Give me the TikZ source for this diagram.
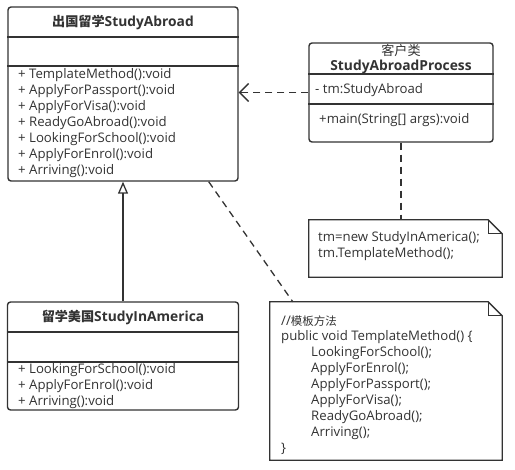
\documentclass[tikz,border=0pt]{standalone}
\usepackage{fontspec}
\setmainfont{Open Sans}
\newfontfamily\cjk[Scale=0.87]{Noto Sans CJK SC}
\newfontfamily\cjkt[Scale=0.95]{Noto Sans CJK SC}
\usetikzlibrary{arrows.meta,calc}
\definecolor{ink}{HTML}{333333}
\begin{document}
\begin{tikzpicture}[x=1pt,y=-1pt,
  font=\fontsize{13.2}{15}\selectfont,
  classbox/.style={draw=ink,line width=1.4pt,rounded corners=3pt,fill=white,inner sep=0pt},
  sep/.style={draw=ink,line width=1.1pt},
  txt/.style={anchor=west,inner sep=0pt,text=ink},
  ttl/.style={inner sep=0pt,text=ink,font=\fontsize{13.8}{15}\selectfont\bfseries},
  link/.style={draw=ink,line width=1.3pt,dash pattern=on 7pt off 5pt},
  notepath/.style={draw=ink,line width=1.3pt,fill=white,line join=miter}]
\useasboundingbox (0,0) rectangle (515,470);
\fill[white] (0,0) rectangle (515,470);
% StudyAbroad
\node[classbox,minimum width=230,minimum height=174] (sa) at (123,94) {};
\draw[sep] (sa.west|-0,37) -- (sa.east|-0,37);
\draw[sep] (sa.west|-0,66) -- (sa.east|-0,66);
\node[ttl] (sat) at (123,22) {{\cjkt 出国留学}StudyAbroad};
\node[txt] (m1) at (18,75) {+ TemplateMethod():void};
\node[txt] (m2) at (18,91) {+ ApplyForPassport():void};
\node[txt] (m3) at (18,107) {+ ApplyForVisa():void};
\node[txt] (m4) at (18,123) {+ ReadyGoAbroad():void};
\node[txt] (m5) at (18,139) {+ LookingForSchool():void};
\node[txt] (m6) at (18,155) {+ ApplyForEnrol():void};
\node[txt] (m7) at (18,171) {+ Arriving():void};
% Client
\node[classbox,minimum width=184,minimum height=99] (cp) at (401,92.5) {};
\draw[sep] (cp.west|-0,74) -- (cp.east|-0,74);
\draw[sep] (cp.west|-0,104) -- (cp.east|-0,104);
\node[inner sep=0pt,text=ink,font=\fontsize{13.8}{15}\selectfont] (cpt1) at (401,51) {\cjkt 客户类};
\node[ttl] (cpt2) at (401,67) {StudyAbroadProcess};
\node[txt] (cpa) at (315,90) {- tm:StudyAbroad};
\node[txt] (cpm) at (319,120) {+main(String[] args):void};
% StudyInAmerica
\node[classbox,minimum width=231,minimum height=108] (sai) at (123,356) {};
\draw[sep] (sai.west|-0,332) -- (sai.east|-0,332);
\draw[sep] (sai.west|-0,362) -- (sai.east|-0,362);
\node[ttl] (sait) at (123,317) {{\cjkt 留学美国}StudyInAmerica};
\node[txt] (s1) at (18,370) {+ LookingForSchool():void};
\node[txt] (s2) at (18,386) {+ ApplyForEnrol():void};
\node[txt] (s3) at (18,402) {+ Arriving():void};
% Note 1
\node[minimum width=193,minimum height=57,inner sep=0pt] (n1) at (405.5,248.5) {};
\draw[notepath] (n1.north west) -- ($(n1.north east)+(-14,0)$) -- ($(n1.north east)+(0,14)$) -- (n1.south east) -- (n1.south west) -- cycle;
\draw[notepath,fill=none] ($(n1.north east)+(-14,0)$) -- ($(n1.north east)+(-14,14)$) -- ($(n1.north east)+(0,14)$);
\node[txt] (n1a) at (318,238) {tm=new StudyInAmerica();};
\node[txt] (n1b) at (318,254) {tm.TemplateMethod();};
% Note 2
\node[minimum width=232,minimum height=158,inner sep=0pt] (n2) at (386,381) {};
\draw[notepath] (n2.north west) -- ($(n2.north east)+(-14,0)$) -- ($(n2.north east)+(0,14)$) -- (n2.south east) -- (n2.south west) -- cycle;
\draw[notepath,fill=none] ($(n2.north east)+(-14,0)$) -- ($(n2.north east)+(-14,14)$) -- ($(n2.north east)+(0,14)$);
\node[txt] (c1) at (281,321) {//{\cjk 模板方法}};
\node[txt] (c2) at (281,337) {public void TemplateMethod() \{};
\node[txt] (c3) at (311,353) {LookingForSchool();};
\node[txt] (c4) at (311,369) {ApplyForEnrol();};
\node[txt] (c5) at (311,385) {ApplyForPassport();};
\node[txt] (c6) at (311,401) {ApplyForVisa();};
\node[txt] (c7) at (311,417) {ReadyGoAbroad();};
\node[txt] (c8) at (311,433) {Arriving();};
\node[txt] (c9) at (281,449) {\}};
% connectors
\draw[link,-{Straight Barb[length=9pt,width=18pt,line width=1.3pt]}] (cp.west) -- (cp.west -| sa.east);
\draw[draw=ink,line width=1.4pt,-{Triangle[open,length=12pt,width=10pt,line width=1.3pt]}] (sai.north) -- (sa.south);
\draw[link] (cp.south) -- (cp.south |- n1.north);
\draw[link] ($(sa.south east)+(-30,0)$) -- ($(n2.north west)+(23,0)$);
\end{tikzpicture}
\end{document}
